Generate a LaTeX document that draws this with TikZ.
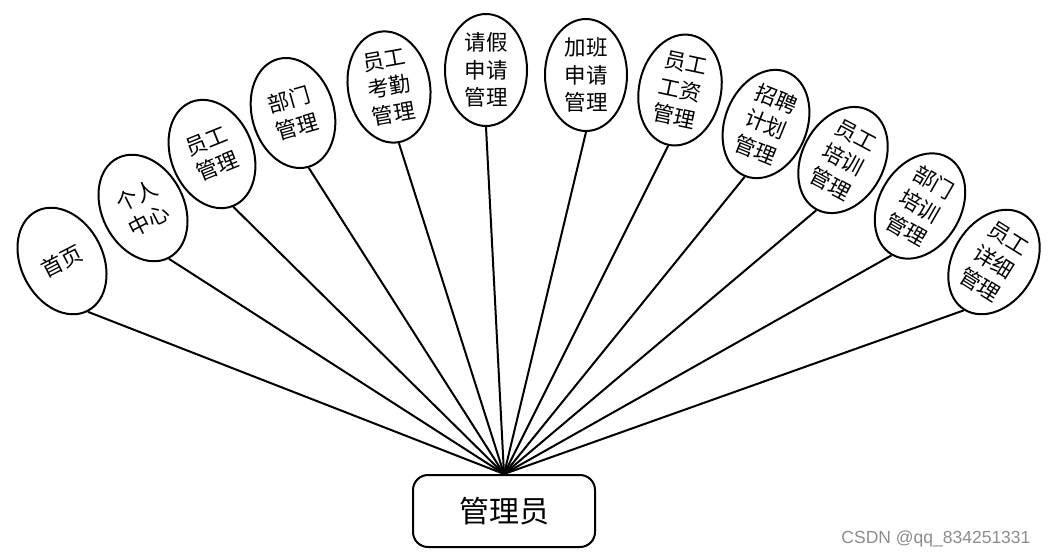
\documentclass[tikz,border=0pt]{standalone}
\usepackage{fontspec}
\newfontfamily\cjk{Noto Sans CJK SC}
\newfontfamily\wmfont{Liberation Sans}
\usetikzlibrary{shapes.geometric}
\begin{document}
\begin{tikzpicture}[x=1pt,y=-1pt,
  topic/.style={ellipse, draw, line width=2pt, minimum width=82pt, minimum height=112pt,
    inner sep=0pt, align=center, font=\cjk\fontsize{21.5}{27.5}\selectfont},
  rootbox/.style={draw, rounded corners=15pt, line width=2pt, minimum width=182pt,
    minimum height=72pt, font=\cjk\fontsize{30}{32}\selectfont},
  link/.style={line width=2pt}]
\useasboundingbox (0,0) rectangle (1048,558);
\node[rootbox] (root) at (504,511) {管理员};
\node[topic, rotate=27]  (e1)  at (62,261)  {首页};
\node[topic, rotate=27]  (e2)  at (143,208) {个人\\中心};
\node[topic, rotate=22]  (e3)  at (212,154) {员工\\管理};
\node[topic, rotate=16]  (e4)  at (293,113) {部门\\管理};
\node[topic, rotate=10]  (e5)  at (389,87)  {员工\\考勤\\管理};
\node[topic, rotate=0]   (e6)  at (486,70)  {请假\\申请\\管理};
\node[topic, rotate=0]   (e7)  at (586,75)  {加班\\申请\\管理};
\node[topic, rotate=-12] (e8)  at (680,90)  {员工\\工资\\管理};
\node[topic, rotate=-22] (e9)  at (766,124) {招聘\\计划\\管理};
\node[topic, rotate=-28] (e10) at (843,160) {员工\\培训\\管理};
\node[topic, rotate=-30] (e11) at (920,206) {部门\\培训\\管理};
\node[topic, rotate=-32] (e12) at (994,262) {员工\\详细\\管理};
\foreach \i in {1,...,12} \draw[link] (e\i.south) -- (root.north);
\node[anchor=east, text=black!45, font=\wmfont\fontsize{17.5}{18}\selectfont] (wm) at (1034,539) {CSDN @qq\_834251331};
\end{tikzpicture}
\end{document}
